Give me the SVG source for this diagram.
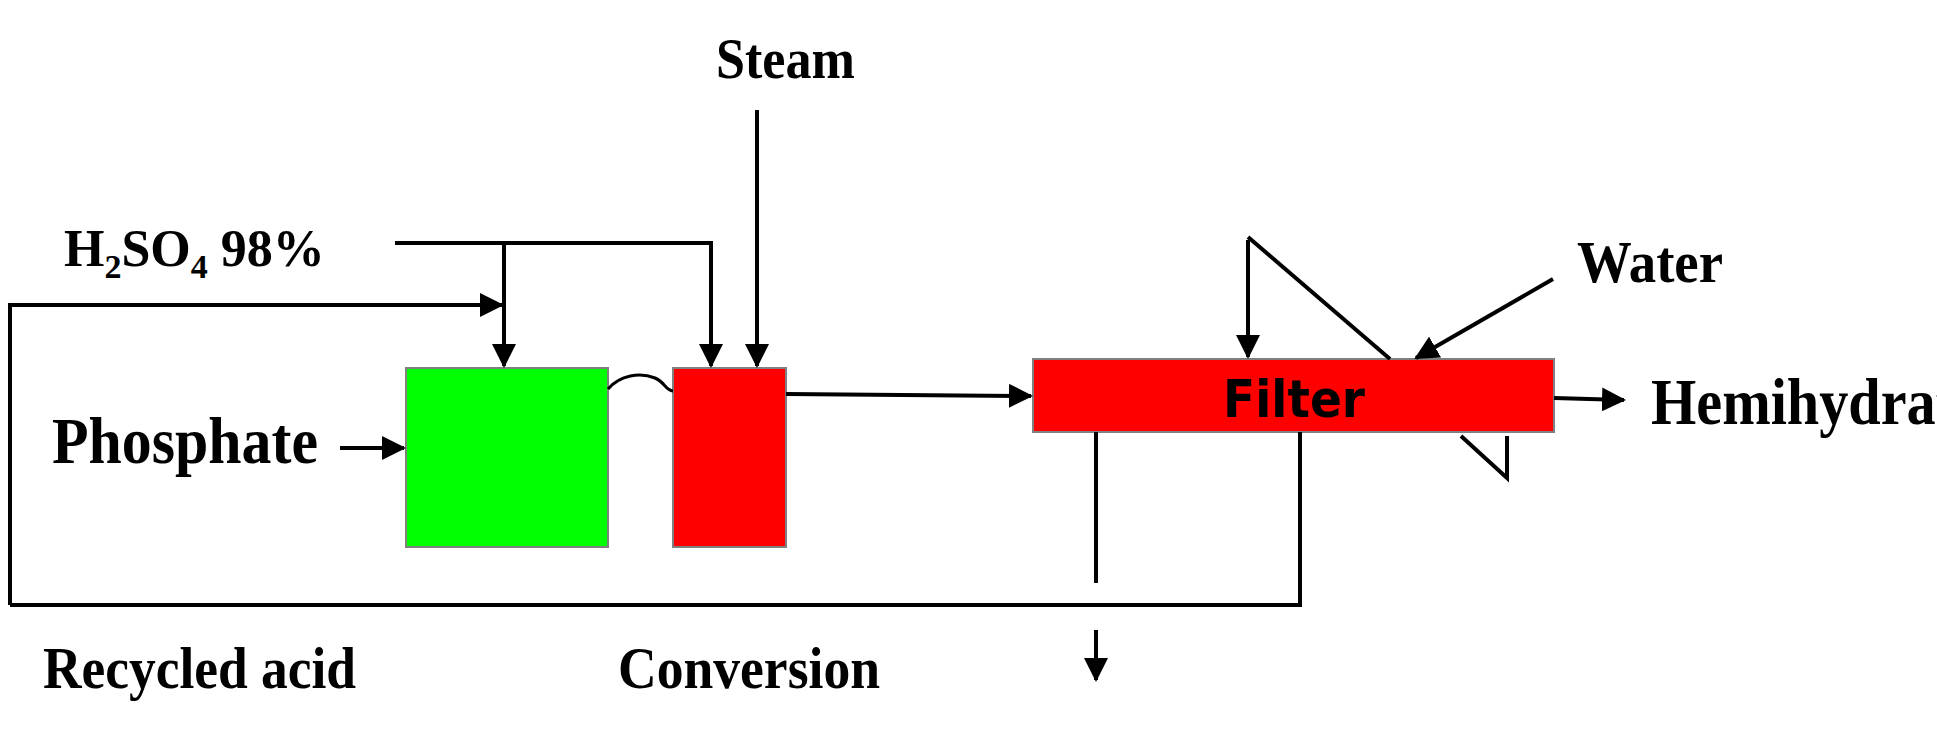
<svg xmlns="http://www.w3.org/2000/svg" width="1937" height="756" viewBox="0 0 1937 756">
<style>
.t{font-family:"Liberation Serif",serif;font-weight:bold;fill:#000}
.ln{stroke:#000;stroke-width:4;fill:none}
.box{stroke:#808080;stroke-width:2}
</style>
<defs><marker id="a" markerWidth="6" markerHeight="6" refX="5.5" refY="3" orient="auto" markerUnits="strokeWidth"><path d="M0,0L6,3L0,6z" fill="#000"/></marker></defs>
<rect width="1937" height="756" fill="#fff"/>
<g id="reactor"><rect class="box" x="406" y="368" width="202" height="179" fill="#00ff00"/></g>
<g id="conversion"><rect class="box" x="673" y="368" width="113" height="179" fill="#ff0000"/></g>
<g id="filter"><rect class="box" x="1033" y="359" width="521" height="73" fill="#ff0000"/>
<text x="1294" y="417" text-anchor="middle" font-family="'DejaVu Sans',sans-serif" font-weight="bold" font-size="52" textLength="142" lengthAdjust="spacingAndGlyphs">Filter</text></g>
<g id="labels">
<text class="t" x="716" y="78" font-size="56" textLength="139" lengthAdjust="spacingAndGlyphs">Steam</text>
<text class="t" x="64" y="266" font-size="52">H<tspan font-size="34" dy="12">2</tspan><tspan dy="-12">SO</tspan><tspan font-size="34" dy="12">4</tspan><tspan dy="-12"> 98%</tspan></text>
<text class="t" x="52" y="463" font-size="66" textLength="266" lengthAdjust="spacingAndGlyphs">Phosphate</text>
<text class="t" x="1577" y="282" font-size="60" textLength="146" lengthAdjust="spacingAndGlyphs">Water</text>
<text class="t" x="1651" y="424" font-size="66" textLength="330" lengthAdjust="spacingAndGlyphs">Hemihydrate</text>
<text class="t" x="43" y="688" font-size="60" textLength="313" lengthAdjust="spacingAndGlyphs">Recycled acid</text>
<text class="t" x="618" y="688" font-size="60" textLength="262" lengthAdjust="spacingAndGlyphs">Conversion</text>
</g>
<g id="connectors" class="ln">
<path d="M757,110V366" marker-end="url(#a)"/>
<path d="M395,243H711V366" marker-end="url(#a)"/>
<path d="M504,243V366" marker-end="url(#a)"/>
<path d="M10,605V305H502" marker-end="url(#a)"/>
<path d="M10,605H1300V432"/>
<path d="M340,448H404" marker-end="url(#a)"/>
<path d="M608,389C620,375 640,372 655,378C665,382 665,390 673,391" stroke-width="3"/>
<path d="M786,394L1031,396" marker-end="url(#a)"/>
<path d="M1248,240V357" marker-end="url(#a)"/>
<path d="M1248,237L1390,359"/>
<path d="M1553,279L1416,358" marker-end="url(#a)"/>
<path d="M1554,398L1624,400" marker-end="url(#a)"/>
<path d="M1461,436L1507,478V436"/>
<path d="M1096,432V583"/>
<path d="M1096,630V680" marker-end="url(#a)"/>
</g>
</svg>
